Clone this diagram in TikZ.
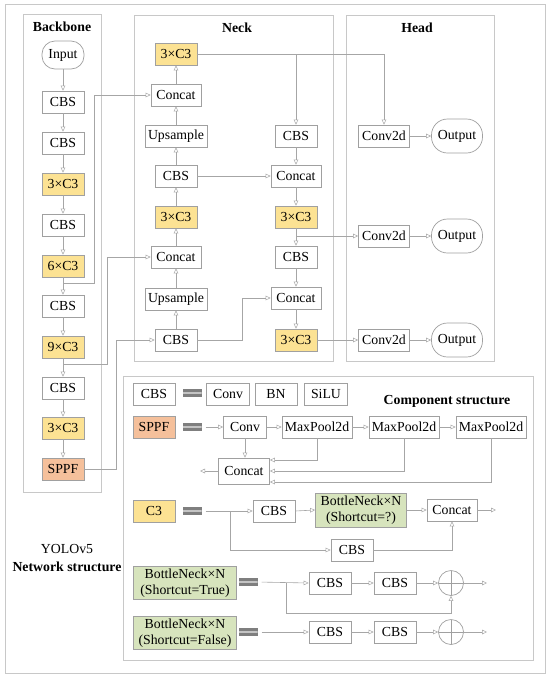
\documentclass[tikz,border=0pt]{standalone}
\usepackage{fontspec}
\setmainfont{Liberation Serif}
\usetikzlibrary{arrows.meta,calc}
\definecolor{lc}{HTML}{A6A6A6}
\definecolor{bc}{HTML}{A0A0A0}
\definecolor{gc}{HTML}{C8C8C8}
\definecolor{yel}{HTML}{FCE293}
\definecolor{ora}{HTML}{F5C09B}
\definecolor{grn}{HTML}{D7E4BD}
\definecolor{eqc}{HTML}{7F7F7F}
\definecolor{eqm}{HTML}{C4C4C4}
\tikzset{
  every node/.style={font=\fontsize{13.8}{16}\selectfont},
  box/.style={draw=bc, line width=0.7pt, fill=white, rectangle, minimum width=42pt, minimum height=22pt, inner xsep=2pt, inner ysep=1pt, align=center},
  ybox/.style={box, fill=yel},
  obox/.style={box, fill=ora},
  gbox/.style={box, fill=grn, minimum height=33pt},
  term/.style={draw=bc, line width=0.7pt, fill=white, rectangle, rounded corners=13pt, minimum width=42pt, minimum height=28pt, inner sep=1pt},
  outt/.style={term, rounded corners=16pt, minimum width=51pt, minimum height=34pt},
  grp/.style={draw=gc, line width=0.8pt},
  arr/.style={draw=lc, line width=0.6pt, -{Triangle[open, length=5pt, width=4.6pt, line width=0.5pt]}},
  ln/.style={draw=lc, line width=0.6pt},
  eqs/.style={rectangle, minimum width=19pt, minimum height=8pt, inner sep=0pt, fill=eqc,
    path picture={\fill[eqm] ([yshift=-0.6pt]path picture bounding box.west) rectangle ([yshift=0.6pt]path picture bounding box.east);}},
  addc/.style={circle, draw=bc, line width=0.7pt, minimum size=25pt, inner sep=0pt,
    path picture={\draw[bc, line width=0.6pt] (path picture bounding box.north) -- (path picture bounding box.south) (path picture bounding box.west) -- (path picture bounding box.east);}},
  ttl/.style={font=\fontsize{13.8}{16}\selectfont\bfseries}
}
\begin{document}
\begin{tikzpicture}[x=1pt,y=-1pt]
\useasboundingbox (0,0) rectangle (550,678);
% group boxes
\draw[grp] (5,4) rectangle (545,673);
\draw[grp] (23,14) rectangle (101,492);
\draw[grp] (134,15) rectangle (333,361);
\draw[grp] (346,15) rectangle (494,361);
\draw[grp] (123,376) rectangle (533,660);
\node[ttl] (tb) at (62,27) {Backbone};
\node[ttl] (tn) at (237,28) {Neck};
\node[ttl] (th) at (417,28) {Head};
% backbone
\node[term] (in) at (63,55) {Input};
\node[box]  (b1) at (63,102) {CBS};
\node[box]  (b2) at (63,143) {CBS};
\node[ybox] (b3) at (63,184) {3×C3};
\node[box]  (b4) at (63,225) {CBS};
\node[ybox] (b5) at (63,266) {6×C3};
\node[box]  (b6) at (63,306) {CBS};
\node[ybox] (b7) at (63,347) {9×C3};
\node[box]  (b8) at (63,388) {CBS};
\node[ybox] (b9) at (63,428) {3×C3};
\node[obox] (b10) at (63,469) {SPPF};
\foreach \a/\b in {in/b1,b1/b2,b2/b3,b3/b4,b4/b5,b5/b6,b6/b7,b7/b8,b8/b9,b9/b10}
  \draw[arr] (\a.south) -- (\b.north);
% neck column 1
\node[ybox] (n1) at (176,54) {3×C3};
\node[box, minimum width=50pt] (n2) at (176,95) {Concat};
\node[box, minimum width=62pt] (n3) at (176,136) {Upsample};
\node[box]  (n4) at (176,176) {CBS};
\node[ybox] (n5) at (176,217) {3×C3};
\node[box, minimum width=50pt] (n6) at (176,257) {Concat};
\node[box, minimum width=62pt] (n7) at (176,299) {Upsample};
\node[box]  (n8) at (176,340) {CBS};
\foreach \a/\b in {n8/n7,n7/n6,n6/n5,n5/n4,n4/n3,n3/n2,n2/n1}
  \draw[arr] (\a.north) -- (\b.south);
% neck column 2
\node[box]  (m1) at (296,136) {CBS};
\node[box, minimum width=50pt] (m2) at (296,176) {Concat};
\node[ybox] (m3) at (296,217) {3×C3};
\node[box]  (m4) at (296,257) {CBS};
\node[box, minimum width=50pt] (m5) at (296,298) {Concat};
\node[ybox] (m6) at (296,340) {3×C3};
\foreach \a/\b in {m1/m2,m2/m3,m3/m4,m4/m5,m5/m6}
  \draw[arr] (\a.south) -- (\b.north);
% head
\node[box, minimum width=51pt] (h1) at (384,136) {Conv2d};
\node[box, minimum width=51pt] (h2) at (384,236) {Conv2d};
\node[box, minimum width=51pt] (h3) at (384,340) {Conv2d};
\node[outt] (o1) at (457,136) {Output};
\node[outt] (o2) at (457,236) {Output};
\node[outt] (o3) at (457,340) {Output};
\foreach \a/\b in {h1/o1,h2/o2,h3/o3}
  \draw[arr] (\a.east) -- (\b.west);
% cross connections
\coordinate (j1) at (63,283);
\coordinate (j2) at (63,364);
\draw[arr] (j1) -- ++(31,0) |- (n2.west);
\draw[arr] (j2) -- ++(44,0) |- (n6.west);
\draw[arr] (b10.east) -- ++(32,0) |- (n8.west);
\draw[arr] (n8.east) -- ++(45,0) |- (m5.west);
\draw[arr] (n4.east) -- (m2.west);
\draw[arr] (n1.east) -| (h1.north);
\draw[arr] (n1.east -| m1.north) -- (m1.north);
\draw[arr] (m3.south |- h2.west) -- (h2.west);
\draw[arr] (m6.east) -- (h3.west);
% component structure
\node[ttl] (tc) at (447,401) {Component structure};
\node[box] (kc) at (154,394) {CBS};
\node[eqs] (eqa) at (192,393) {};
\node[box, minimum width=43pt] (kconv) at (228,394) {Conv};
\node[box] (kbn) at (276,394) {BN};
\node[box, minimum width=43pt] (ksilu) at (326,394) {SiLU};
% SPPF
\node[obox] (ks) at (154,427) {SPPF};
\node[eqs] (eqb) at (192,427) {};
\node[box, minimum width=43pt] (sc) at (245,427) {Conv};
\node[box, minimum width=70pt] (mp1) at (317,427) {MaxPool2d};
\node[box, minimum width=70pt] (mp2) at (404,427) {MaxPool2d};
\node[box, minimum width=70pt] (mp3) at (491,427) {MaxPool2d};
\node[box, minimum width=51pt, minimum height=26pt] (scat) at (244,471) {Concat};
\coordinate (sout) at (200,471);
\draw[arr, shorten <=4pt] (eqb.east) -- (sc.west);
\draw[arr] (sc.east) -- (mp1.west);
\draw[arr] (mp1.east) -- (mp2.west);
\draw[arr] (mp2.east) -- (mp3.west);
\draw[arr] (sc.south) -- (sc.south |- scat.north);
\draw[arr] (mp1.south) |- ([yshift=11pt]scat.east);
\draw[arr] (mp2.south) |- (scat.east);
\draw[arr] (mp3.south) |- ([yshift=-11pt]scat.east);
\draw[arr] (scat.west) -- (sout);
% C3
\node[ybox] (kc3) at (154,511) {C3};
\node[eqs] (eqc) at (192,511) {};
\node[box] (cb1) at (274,511) {CBS};
\node[gbox, minimum width=91pt, minimum height=34pt] (cbn) at (361,510) {BottleNeck×N\\(Shortcut=?)};
\node[box, minimum width=50pt] (ccat) at (452,510) {Concat};
\node[box] (cb2) at (352,550) {CBS};
\coordinate (cj) at (230,511);
\coordinate (cout) at (496,510);
\draw[arr, shorten <=4pt] (eqc.east) -- (cb1.west);
\draw[arr] (cj) |- (cb2.west);
\draw[arr] (cb1.east) -- (cbn.west);
\draw[arr] (cbn.east) -- (ccat.west);
\draw[arr] (ccat.east) -- (cout);
\draw[arr] (cb2.east) -| (ccat.south);
% Bottleneck True
\node[gbox, minimum width=103pt] (bnt) at (185,583) {BottleNeck×N\\(Shortcut=True)};
\node[eqs] (eqd) at (248,582) {};
\node[box] (t1) at (330,583) {CBS};
\node[box] (t2) at (395,583) {CBS};
\node[addc] (at) at (451,583) {};
\coordinate (tout) at (487,583);
\coordinate (tj) at (286,583);
\draw[arr, shorten <=4pt] (eqd.east) -- (t1.west);
\draw[arr] (t1.east) -- (t2.west);
\draw[arr] (t2.east) -- (at.west);
\draw[arr] (at.east) -- (tout);
\draw[arr] (tj) -- ++(0,30) -| (at.south);
% Bottleneck False
\node[gbox, minimum width=103pt] (bnf) at (185,633) {BottleNeck×N\\(Shortcut=False)};
\node[eqs] (eqe) at (248,632) {};
\node[box] (f1) at (330,632) {CBS};
\node[box] (f2) at (395,632) {CBS};
\node[addc] (af) at (451,632) {};
\coordinate (fout) at (487,632);
\draw[arr, shorten <=4pt] (eqe.east) -- (f1.west);
\draw[arr] (f1.east) -- (f2.west);
\draw[arr] (f2.east) -- (af.west);
\draw[arr] (af.east) -- (fout);
% title
\node (y5) at (67,549) {YOLOv5};
\node[ttl] (ns) at (67,567) {Network structure};
\end{tikzpicture}
\end{document}
